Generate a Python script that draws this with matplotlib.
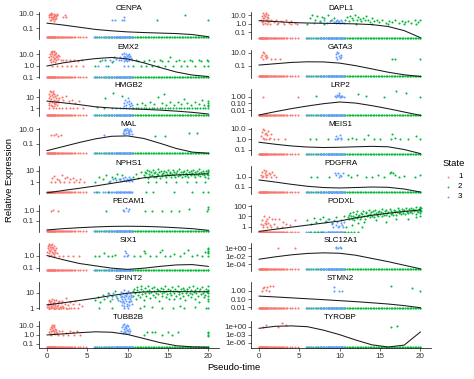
import matplotlib
matplotlib.use("Agg")
import matplotlib.pyplot as plt
from matplotlib.lines import Line2D

plt.rcParams['font.family'] = ['Liberation Sans', 'DejaVu Sans']

# ---------------- data ----------------
left_genes = ["CENPA", "EMX2", "HMGB2", "MAL", "NPHS1", "PECAM1", "SIX1", "SPINT2", "TUBB2B"]
right_genes = ["DAPL1", "GATA3", "LRP2", "MEIS1", "PDGFRA", "PODXL", "SLC12A1", "STMN2", "TYROBP"]
states = ["1", "2", "3"]
x_ticks = [0, 5, 10, 15, 20]

# pseudotime of all cells per state (used for the zero-expression strip)
cells_state1 = [0.0, 0.05, 0.1, 0.15, 0.2, 0.25, 0.3, 0.35, 0.4, 0.45, 0.5, 0.55, 0.6, 0.65, 0.7, 0.75,
                0.8, 0.85, 0.9, 0.95, 1.0, 1.1, 1.2, 1.3, 1.4, 1.5, 1.6, 1.7, 1.8, 1.9, 2.0, 2.1, 2.2,
                2.35, 2.5, 2.6, 2.75, 2.9, 3.0, 3.15, 3.3, 3.5, 3.8, 4.1, 4.4, 4.8]
cells_state3 = [5.8, 6.1, 6.5, 6.9, 7.2, 7.5, 7.7, 7.9, 8.1, 8.3, 8.5, 8.6, 8.7, 8.8, 8.9, 9.0, 9.1,
                9.2, 9.3, 9.4, 9.5, 9.6, 9.7, 9.8, 9.9, 10.0, 10.1, 10.2, 10.3, 10.4, 10.5]
cells_state2 = [5.9, 6.2, 6.4, 6.7, 7.0, 7.3, 7.5, 7.7, 7.9, 8.1, 8.3, 8.5, 8.7, 8.9, 9.1, 9.3, 9.5,
                9.7, 9.9, 10.1, 10.3, 10.5, 10.7, 10.9, 11.1, 11.3, 11.5, 11.7, 11.9, 12.1, 12.3,
                12.5, 12.7, 12.9, 13.1, 13.3, 13.5, 13.7, 13.9, 14.1, 14.3, 14.5, 14.7, 14.9, 15.1,
                15.3, 15.5, 15.7, 15.9, 16.1, 16.3, 16.5, 16.7, 16.9, 17.1, 17.3, 17.5, 17.7, 17.9,
                18.1, 18.3, 18.5, 18.7, 18.9, 19.1, 19.3, 19.5, 19.7, 19.9, 20.0]

# smooth-fit line: pseudotime knots and fitted values per gene
line_t = [0, 2, 4, 6, 8, 10, 12, 14, 16, 18, 20]
line_values = {
    "CENPA":  [0.5, 0.28, 0.14, 0.07, 0.045, 0.032, 0.026, 0.022, 0.019, 0.014, 0.007],
    "EMX2":   [0.95, 1.8, 2.9, 4.3, 5.4, 4.0, 1.8, 0.7, 0.28, 0.15, 0.11],
    "HMGB2":  [4.5, 3.2, 2.2, 1.4, 1.1, 0.95, 0.83, 0.71, 0.58, 0.45, 0.32],
    "MAL":    [0.0126, 0.045, 0.16, 0.5, 1.12, 1.26, 0.56, 0.126, 0.025, 0.0079, 0.0056],
    "NPHS1":  [0.11, 0.18, 0.28, 0.45, 0.76, 1.3, 2.4, 3.3, 4.2, 4.8, 5.4],
    "PECAM1": [0.012, 0.016, 0.02, 0.024, 0.027, 0.028, 0.027, 0.024, 0.02, 0.016, 0.011],
    "SIX1":   [1.0, 0.45, 0.22, 0.14, 0.09, 0.071, 0.089, 0.126, 0.166, 0.178, 0.126],
    "SPINT2": [1.66, 2.24, 3.16, 4.47, 6.6, 9.3, 11.2, 11.7, 11.7, 11.5, 11.5],
    "TUBB2B": [1.0, 1.32, 1.78, 2.24, 2.0, 1.12, 0.4, 0.14, 0.063, 0.047, 0.043],
    "DAPL1":  [2.24, 1.78, 1.38, 1.2, 1.12, 1.05, 0.95, 0.79, 0.48, 0.16, 0.025],
    "GATA3":  [0.126, 0.2, 0.32, 0.4, 0.38, 0.25, 0.1, 0.032, 0.01, 0.004, 0.0022],
    "LRP2":   [0.0018, 0.0056, 0.016, 0.04, 0.089, 0.16, 0.11, 0.045, 0.016, 0.005, 0.0016],
    "MEIS1":  [0.54, 0.35, 0.24, 0.19, 0.17, 0.18, 0.2, 0.22, 0.2, 0.11, 0.045],
    "PDGFRA": [0.45, 0.28, 0.166, 0.105, 0.079, 0.071, 0.079, 0.089, 0.083, 0.056, 0.028],
    "PODXL":  [0.35, 0.56, 0.89, 1.41, 2.24, 3.55, 7.1, 12.6, 20, 30, 41.7],
    "SLC12A1": [1.6e-3, 6.3e-3, 0.02, 0.045, 0.063, 0.05, 0.016, 2.5e-3, 4e-4, 5e-5, 6.3e-6],
    "STMN2":  [0.224, 0.178, 0.138, 0.107, 0.083, 0.063, 0.048, 0.035, 0.025, 0.016, 0.0089],
    "TYROBP": [0.25, 1.4, 2.0, 1.0, 0.05, 1e-3, 1e-5, 1.6e-7, 2.5e-8, 1.26e-7, 0.01],
}

# value at which zero expression is drawn
floor_values = {
    "CENPA": 0.0056, "EMX2": 0.1, "HMGB2": 0.24, "MAL": 0.0054, "NPHS1": 0.13, "PECAM1": 0.01,
    "SIX1": 0.068, "SPINT2": 0.95, "TUBB2B": 0.05, "DAPL1": 0.024, "GATA3": 0.0022,
    "LRP2": 0.0016, "MEIS1": 0.045, "PDGFRA": 0.028, "PODXL": 0.33, "SLC12A1": 5e-6,
    "STMN2": 0.0075, "TYROBP": 2.5e-8,
}
# which states have their full zero strip
baseline_states = {
    "NPHS1": [1, 3], "PODXL": [1, 3], "SPINT2": [],
}

y_limits = {
    "CENPA": (0.0032, 18.6), "EMX2": (0.085, 23.4), "HMGB2": (0.195, 56), "MAL": (0.0032, 17.4),
    "NPHS1": (0.095, 25.7), "PECAM1": (0.0071, 3.98), "SIX1": (0.054, 10.5), "SPINT2": (0.85, 49),
    "TUBB2B": (0.035, 40.7), "DAPL1": (0.0166, 24), "GATA3": (0.00138, 23.4),
    "LRP2": (0.0011, 14.8), "MEIS1": (0.033, 13.8), "PDGFRA": (0.0195, 11),
    "PODXL": (0.29, 135), "SLC12A1": (2e-6, 15.8), "STMN2": (0.0056, 11.5), "TYROBP": (1.05e-8, 209),
}
y_ticks = {
    "CENPA": [0.1, 10], "EMX2": [0.1, 1, 10], "HMGB2": [1, 10], "MAL": [0.1, 10],
    "NPHS1": [1, 10], "PECAM1": [0.1, 1], "SIX1": [0.1, 1], "SPINT2": [1, 10],
    "TUBB2B": [0.1, 1, 10], "DAPL1": [0.1, 1, 10], "GATA3": [0.1, 10], "LRP2": [0.01, 0.1, 1],
    "MEIS1": [0.1, 1, 10], "PDGFRA": [0.1, 1], "PODXL": [1, 10, 100],
    "SLC12A1": [1e-4, 1e-2, 1], "STMN2": [0.01, 0.1, 1], "TYROBP": [1e-6, 1e-3, 1],
}
y_tick_labels = {
    "CENPA": ["0.1", "10.0"], "EMX2": ["0.1", "1.0", "10.0"], "HMGB2": ["1", "10"],
    "MAL": ["0.1", "10.0"], "NPHS1": ["1", "10"], "PECAM1": ["0.1", "1.0"], "SIX1": ["0.1", "1.0"],
    "SPINT2": ["1", "10"], "TUBB2B": ["0.1", "1.0", "10.0"], "DAPL1": ["0.1", "1.0", "10.0"],
    "GATA3": ["0.1", "10.0"], "LRP2": ["0.01", "0.10", "1.00"], "MEIS1": ["0.1", "1.0", "10.0"],
    "PDGFRA": ["0.1", "1.0"], "PODXL": ["1", "10", "100"], "SLC12A1": ["1e-04", "1e-02", "1e+00"],
    "STMN2": ["0.01", "0.10", "1.00"], "TYROBP": ["1e-06", "1e-03", "1e+00"],
}

# expressed cells: (pseudotime, relative expression) per gene and state
CENPA_1 = [(0.2, 3), (0.3, 6), (0.35, 1.5), (0.4, 8), (0.45, 4), (0.5, 1.2), (0.55, 6), (0.6, 2.5),
           (0.65, 9), (0.7, 4), (0.75, 1.8), (0.8, 5), (0.85, 1.1), (0.9, 3), (0.95, 7), (1.0, 2),
           (1.05, 5), (1.1, 2.5), (1.2, 6), (1.25, 9), (0.5, 12), (0.8, 10), (2.0, 4), (2.2, 6), (2.4, 3)]
CENPA_3 = [(8.0, 1.2), (8.4, 1.2), (9.3, 1.2), (9.6, 1.2), (9.5, 4)]
CENPA_2 = [(13.6, 1.2), (17.1, 6), (19.9, 1.2)]

EMX2_1 = [(0.3, 6), (0.35, 12), (0.4, 3), (0.45, 18), (0.5, 8), (0.55, 4), (0.6, 15), (0.65, 10),
          (0.7, 2.5), (0.75, 6), (0.8, 17), (0.85, 9), (0.9, 4), (0.95, 12), (1.0, 5), (1.05, 7),
          (1.1, 3), (1.15, 14), (1.2, 6), (1.3, 9), (1.4, 4), (1.5, 7), (0.6, 20), (0.9, 20),
          (0.5, 2), (1.0, 2.2), (1.7, 3.5), (2.0, 3), (2.4, 3.2), (2.8, 3), (3.3, 3.5), (3.8, 2.8),
          (4.3, 3), (0.6, 1), (1.2, 1), (1.8, 1), (2.5, 1), (3.0, 1), (3.6, 1), (4.4, 1)]
EMX2_3 = [(6.3, 1), (6.8, 3), (7.3, 1), (7.8, 3.5), (8.2, 2.5), (8.6, 4), (8.9, 3), (9.1, 6),
          (9.2, 3), (9.3, 10), (9.4, 5), (9.5, 2.5), (9.55, 8), (9.6, 14), (9.65, 4), (9.7, 6),
          (9.75, 3), (9.8, 11), (9.85, 5), (9.9, 7), (9.95, 2.6), (10.0, 9), (10.05, 4), (10.1, 6),
          (10.15, 12), (10.2, 3.5), (10.3, 7), (10.4, 5), (10.5, 3), (9.5, 1), (10.0, 1)]
EMX2_2 = [(6.0, 1), (6.6, 2.5), (7.2, 3), (7.6, 1), (8.0, 2), (8.3, 6), (10.7, 1), (11.0, 3),
          (11.3, 2.5), (11.6, 1), (12.0, 2.8), (12.3, 1), (12.6, 3.5), (13.0, 1), (13.3, 2.5),
          (13.7, 1), (14.0, 3), (14.3, 2.5), (14.6, 1), (15.0, 2.8), (15.3, 6), (15.6, 1), (16.0, 2.5),
          (16.3, 3), (16.6, 1), (17.0, 2.5), (17.3, 1), (17.7, 3), (18.0, 2.5), (18.4, 1), (18.8, 3),
          (19.1, 2.5), (19.5, 1), (19.8, 3), (20.0, 2.5), (20.0, 1)]

HMGB2_1 = [(0.2, 3), (0.25, 8), (0.3, 20), (0.35, 5), (0.4, 12), (0.45, 2), (0.5, 30), (0.55, 7),
           (0.6, 15), (0.65, 4), (0.7, 25), (0.75, 10), (0.8, 3), (0.85, 18), (0.9, 6), (0.95, 2.5),
           (1.0, 12), (1.05, 5), (1.1, 9), (1.15, 3.5), (1.2, 15), (1.3, 6), (1.4, 4), (1.5, 8),
           (0.4, 40), (0.7, 35), (0.3, 2), (0.6, 1.6), (0.9, 1.8), (1.2, 2), (1.8, 10), (2.0, 6),
           (2.3, 12), (2.7, 5), (3.1, 6), (3.5, 3), (4.0, 5), (0.3, 1), (0.7, 1), (1.1, 1), (1.5, 1),
           (1.9, 1), (2.3, 1), (2.8, 1), (3.2, 1), (3.7, 1), (4.4, 1)]
HMGB2_3 = [(9.6, 3), (9.7, 6), (9.8, 2), (9.9, 4), (10.0, 8), (10.1, 2.5), (10.2, 5), (10.3, 1.5),
           (10.4, 3), (10.5, 2), (9.5, 1.8), (8.0, 1), (8.5, 1), (9.0, 1), (9.4, 1), (9.8, 1),
           (10.2, 1), (10.5, 1)]
HMGB2_2 = [(6.2, 1.3), (7.2, 9), (8.2, 23), (9.3, 14), (7.0, 1), (10.6, 1), (11.0, 1), (11.3, 1),
           (11.6, 1), (12.0, 1), (12.3, 1), (12.6, 1), (13.0, 1), (13.3, 1), (13.6, 1), (14.0, 1),
           (14.3, 1), (14.6, 1), (15.0, 1), (15.3, 1), (15.6, 1), (16.0, 1), (16.3, 1), (16.6, 1),
           (17.0, 1), (17.3, 1), (17.6, 1), (18.0, 1), (18.3, 1), (18.6, 1), (19.0, 1), (19.3, 1),
           (19.6, 1), (20.0, 1), (11.2, 2.5), (11.8, 3), (12.2, 2), (12.8, 4), (13.2, 2.5),
           (13.8, 10), (14.5, 20), (14.2, 3), (14.8, 2), (15.2, 3.5), (15.7, 2.2), (16.2, 4),
           (16.6, 2.5), (17.0, 7), (17.4, 3), (17.8, 2), (18.3, 3.5), (18.8, 2.5), (19.2, 6),
           (19.5, 2), (19.9, 3), (20.0, 4.5), (20.0, 2), (20.0, 1.5)]

MAL_1 = [(0.5, 1.5), (0.8, 1.5), (1.1, 2), (1.4, 1.3), (1.7, 1.6)]
MAL_3 = [(7.0, 1.5), (9.4, 3), (9.5, 8), (9.6, 5), (9.7, 12), (9.75, 3), (9.8, 7), (9.9, 15),
         (10.0, 4), (10.05, 9), (10.1, 6), (10.2, 3.5), (10.3, 10), (10.4, 5), (10.5, 2.5),
         (9.6, 2), (10.2, 2)]
MAL_2 = [(13.4, 1.2), (14.6, 1.2), (17.6, 2.8), (18.6, 2.8)]

NPHS1_1 = [(0.6, 2.5), (0.9, 3.5), (1.2, 2), (1.5, 1.5), (1.9, 4), (2.2, 2.5), (2.5, 3), (2.8, 2),
           (3.2, 2.5), (3.6, 1.5), (4.1, 2), (0.5, 1), (1.0, 1), (1.6, 1), (2.1, 1), (2.7, 1),
           (3.3, 1), (3.9, 1), (4.6, 1)]
NPHS1_3 = [(8.5, 1.5), (8.9, 2), (9.2, 1.3), (9.4, 2.5), (9.6, 1.6), (9.7, 3), (9.8, 1.2), (9.9, 2),
           (10.0, 1.5), (10.1, 2.6), (10.2, 1.3), (10.3, 2), (10.4, 1.7), (10.5, 1.2), (7.8, 1.2),
           (8.2, 2)]
NPHS1_2 = [(6.0, 1), (6.4, 3), (6.9, 2), (7.3, 4), (7.7, 1), (8.0, 3), (8.4, 2.5), (8.7, 5), (9.0, 1.8),
           (9.3, 4), (10.6, 3), (11.0, 5), (11.3, 2.5), (11.7, 7),
           (12.0, 4), (12.1, 8), (12.2, 3), (12.3, 6), (12.4, 12), (12.5, 2.5), (12.6, 5), (12.7, 9),
           (12.8, 3.5), (12.9, 7), (13.0, 4.5), (13.1, 11), (13.2, 2.8), (13.3, 6), (13.4, 8),
           (13.5, 3), (13.6, 5), (13.7, 13), (13.8, 4), (13.9, 7), (14.0, 2.5), (14.1, 9), (14.2, 5),
           (14.3, 3.5), (14.4, 6.5), (14.5, 10), (14.6, 4), (14.7, 7.5), (14.8, 2.6), (14.9, 5.5),
           (15.0, 12), (15.1, 3.8), (15.2, 6), (15.3, 8.5), (15.4, 3), (15.5, 5), (15.6, 11),
           (15.7, 4.2), (15.8, 7), (15.9, 2.8), (16.0, 6), (16.1, 9), (16.2, 3.6), (16.3, 5.5),
           (16.4, 13), (16.5, 4), (16.6, 7), (16.7, 3), (16.8, 8), (16.9, 5), (17.0, 10), (17.1, 3.5),
           (17.2, 6), (17.3, 4.5), (17.4, 12), (17.5, 3), (17.6, 7), (17.7, 5), (17.8, 9), (17.9, 3.8),
           (18.0, 6), (18.1, 11), (18.2, 4), (18.3, 7.5), (18.4, 2.8), (18.5, 5.5), (18.6, 9), (18.7, 4),
           (18.8, 13), (18.9, 6), (19.0, 3.2), (19.1, 8), (19.2, 5), (19.3, 10), (19.4, 4), (19.5, 6.5),
           (19.6, 3), (19.7, 9), (19.8, 5), (19.9, 12), (20.0, 4), (20.0, 7), (20.0, 2.5), (20.0, 10),
           (12.5, 1), (13.5, 1), (14.8, 1), (16.0, 1), (17.3, 1), (18.5, 1), (19.6, 1),
           (6.2, 0.13), (7.5, 0.13), (12.3, 0.13), (13.1, 0.13), (15.8, 0.13), (18.0, 0.13),
           (19.3, 0.13), (20.0, 0.13)]

PECAM1_1 = [(0.5, 1), (1.3, 1), (0.7, 1.3)]
PECAM1_3 = [(9.4, 1.3), (9.6, 1), (9.8, 2), (10.0, 1), (10.1, 1.5)]
PECAM1_2 = [(7.3, 1), (12.2, 1), (13.0, 1), (14.2, 1), (15.4, 1), (16.3, 1), (17.6, 1.5), (19.8, 1),
            (20.0, 2.5), (20.0, 1.5)]

SIX1_1 = [(0.0, 2), (0.1, 4), (0.15, 6), (0.2, 1.5), (0.25, 3), (0.3, 8), (0.35, 2.5), (0.4, 5),
          (0.45, 1.2), (0.5, 7), (0.55, 3.5), (0.6, 2), (0.65, 5.5), (0.7, 1.6), (0.75, 4), (0.8, 2.8),
          (0.85, 6), (0.9, 1.3), (0.95, 3), (1.0, 2), (1.1, 4.5), (1.2, 1.8), (0.2, 9), (0.6, 8.5),
          (0.3, 1), (0.9, 1), (1.5, 1), (2.0, 1), (2.6, 1), (3.2, 1), (3.9, 1)]
SIX1_3 = [(9.6, 1), (9.8, 1.5), (9.9, 1), (9.7, 2.5), (10.0, 1.2)]
SIX1_2 = [(6.0, 1), (6.5, 1), (7.0, 1.5), (7.5, 1), (8.0, 1), (8.4, 1.2), (10.8, 1), (11.5, 1),
          (12.2, 1.5), (12.8, 1), (13.5, 1), (14.0, 2), (14.6, 1), (15.2, 1), (15.8, 1.3), (16.5, 1),
          (17.0, 1.5), (17.5, 3), (18.0, 1), (18.6, 1.2), (19.2, 1), (19.6, 2), (20.0, 1), (20.0, 1.5),
          (20.0, 2.5), (20.0, 3.5), (20.0, 4.5), (19.9, 2), (14.3, 3), (12.0, 2.5)]

SPINT2_1 = [(0.0, 1.3), (0.1, 2), (0.15, 1.6), (0.2, 2.8), (0.25, 1.2), (0.3, 3.5), (0.35, 1.8),
            (0.4, 2.4), (0.45, 1.4), (0.5, 3), (0.55, 1.9), (0.6, 4), (0.65, 1.3), (0.7, 2.2),
            (0.75, 1.6), (0.8, 3.2), (0.85, 1.1), (0.9, 2.6), (0.95, 1.5), (1.0, 2), (1.1, 3.6),
            (1.2, 1.4), (1.3, 2.4), (1.4, 1.7), (1.5, 3), (1.6, 1.2), (1.7, 2.2), (1.8, 1.5), (1.9, 2.8),
            (2.0, 1.3), (2.2, 2), (2.4, 4.5), (2.6, 1.6), (2.9, 2.5), (3.2, 1.8), (3.5, 3), (3.9, 2),
            (4.3, 1.5), (0.2, 1), (0.5, 1), (0.8, 1), (1.1, 1), (1.4, 1), (1.7, 1), (2.0, 1), (2.3, 1),
            (2.7, 1), (3.0, 1), (3.4, 1), (3.8, 1), (0.3, 0.95), (0.9, 0.95), (1.5, 0.95), (2.5, 0.95)]
SPINT2_3 = [(7.4, 5), (7.7, 8), (8.0, 4), (8.2, 9), (8.5, 6), (8.8, 3.5), (9.0, 7), (9.1, 3), (9.15, 5),
            (9.2, 11), (9.25, 2.5), (9.3, 6), (9.35, 4), (9.4, 9), (9.45, 3), (9.5, 14), (9.55, 5),
            (9.6, 2.2), (9.65, 7), (9.7, 4), (9.75, 10), (9.8, 3), (9.85, 6), (9.9, 2), (9.95, 8),
            (10.0, 4.5), (10.05, 12), (10.1, 3), (10.15, 6), (10.2, 2.5), (10.25, 9), (10.3, 4),
            (10.35, 7), (10.4, 3), (10.45, 5), (10.5, 2), (9.3, 1.6), (9.6, 1.4), (9.9, 1.5),
            (10.2, 1.6), (9.5, 1), (10.0, 1)]
SPINT2_2 = [(6.0, 3.5), (6.3, 5), (6.6, 2.5), (6.9, 7), (7.1, 4), (7.5, 10), (7.8, 3), (8.1, 6),
            (8.4, 12), (8.7, 4.5), (6.5, 1), (8.0, 1),
            (10.6, 12), (10.7, 6), (10.8, 18), (10.9, 9), (11.0, 4), (11.1, 14), (11.2, 22), (11.3, 7),
            (11.4, 11), (11.5, 5), (11.6, 16), (11.7, 25), (11.8, 8), (11.9, 13), (12.0, 3.5),
            (12.1, 10), (12.2, 19), (12.3, 6), (12.4, 12), (12.5, 28), (12.6, 9), (12.7, 15),
            (12.8, 4.5), (12.9, 11), (13.0, 20), (13.1, 7), (13.2, 13), (13.3, 24), (13.4, 5.5),
            (13.5, 10), (13.6, 17), (13.7, 8), (13.8, 14), (13.9, 3), (14.0, 12), (14.1, 21),
            (14.2, 6.5), (14.3, 9), (14.4, 16), (14.5, 11), (14.6, 26), (14.7, 5), (14.8, 13),
            (14.9, 8), (15.0, 18), (15.1, 4), (15.2, 10), (15.3, 15), (15.4, 7), (15.5, 22),
            (15.6, 12), (15.7, 3.8), (15.8, 9), (15.9, 17), (16.0, 6), (16.1, 13), (16.2, 25),
            (16.3, 8.5), (16.4, 11), (16.5, 4.5), (16.6, 16), (16.7, 10), (16.8, 20), (16.9, 6),
            (17.0, 14), (17.1, 3.2), (17.2, 9), (17.3, 18), (17.4, 12), (17.5, 7), (17.6, 23),
            (17.7, 10), (17.8, 5), (17.9, 15), (18.0, 8), (18.1, 28), (18.2, 11), (18.3, 4),
            (18.4, 14), (18.5, 9), (18.6, 19), (18.7, 6), (18.8, 12), (18.9, 2.6), (19.0, 16),
            (19.1, 8), (19.2, 22), (19.3, 10), (19.4, 5.5), (19.5, 13), (19.6, 7), (19.7, 18),
            (19.8, 11), (19.9, 4), (20.0, 15), (20.0, 9), (20.0, 25), (20.0, 6), (20.0, 12), (20.0, 3),
            (11.5, 1), (13.0, 1.2), (14.2, 1), (15.6, 1.1), (17.0, 1), (18.3, 1.2), (19.7, 1),
            (20.0, 1), (12.0, 1.5), (16.5, 1.4)]

TUBB2B_1 = [(0.3, 2), (0.35, 5), (0.4, 1.4), (0.45, 8), (0.5, 3), (0.55, 1.2), (0.6, 6), (0.65, 2.5),
            (0.7, 10), (0.75, 4), (0.8, 1.6), (0.85, 7), (0.9, 3), (0.95, 1.3), (1.0, 5), (1.05, 2),
            (1.1, 3.5), (1.2, 1.5), (0.6, 13), (0.9, 12), (1.5, 3), (1.9, 2.5), (2.3, 1.5), (2.8, 3),
            (3.2, 2), (3.7, 2.5), (0.5, 1), (1.3, 1), (2.0, 1), (2.6, 1), (3.4, 1), (4.1, 1)]
TUBB2B_3 = [(9.2, 3), (9.3, 8), (9.4, 1.6), (9.45, 12), (9.5, 5), (9.55, 2.2), (9.6, 18), (9.65, 7),
            (9.7, 3), (9.75, 10), (9.8, 1.8), (9.85, 6), (9.9, 14), (9.95, 4), (10.0, 2.5),
            (10.05, 9), (10.1, 5), (10.2, 1.5), (10.3, 3)]
TUBB2B_2 = [(12.4, 2), (13.0, 2), (13.4, 2), (14.3, 1), (15.0, 2), (15.5, 1), (16.2, 2), (12.0, 1),
            (20.0, 1), (20.0, 1.5), (20.0, 2), (20.0, 0.8)]

DAPL1_1 = [(0.3, 3), (0.35, 8), (0.4, 1.5), (0.45, 15), (0.5, 5), (0.55, 2), (0.6, 10), (0.65, 4),
           (0.7, 1.2), (0.75, 7), (0.8, 18), (0.85, 3), (0.9, 12), (0.95, 2.5), (1.0, 6), (1.05, 1.6),
           (1.1, 9), (1.15, 4), (1.2, 2), (0.5, 1), (1.0, 1), (1.5, 2.5), (1.8, 1.5), (2.1, 3),
           (2.4, 1.2), (2.7, 2), (3.0, 1.5), (3.3, 2.5), (3.7, 1.3), (4.0, 2), (4.5, 1.2), (1.3, 1),
           (2.2, 1), (3.1, 1), (3.9, 1), (4.7, 1)]
DAPL1_3 = [(7.6, 1.5), (8.0, 2.5), (8.4, 1.2), (8.8, 2), (9.1, 3), (9.3, 1.4), (9.5, 2.2), (9.6, 1.1),
           (9.7, 2.8), (9.8, 1.6), (9.9, 2), (10.0, 1.3), (10.1, 2.5), (10.3, 1.5), (10.5, 1.2),
           (6.8, 1.2)]
DAPL1_2 = [(6.3, 5), (6.6, 10), (6.9, 3), (7.2, 7), (7.5, 2), (7.8, 6), (8.1, 4), (8.5, 9), (8.9, 2.5),
           (9.3, 5), (10.6, 3), (10.9, 6), (11.1, 2), (11.3, 8), (11.5, 4), (11.7, 3), (11.9, 10),
           (12.1, 2.5), (12.3, 6), (12.5, 3.5), (12.7, 1.8), (12.9, 5), (13.1, 2.5), (13.3, 7),
           (13.5, 3), (13.7, 1.6), (14.0, 4), (14.3, 2), (14.6, 3), (14.9, 1.5), (15.3, 2.5),
           (15.7, 1.3), (16.1, 2), (16.5, 1.5), (16.9, 2.5), (17.3, 1.2), (17.7, 1.8), (18.1, 1.5),
           (18.5, 2), (18.9, 1.2), (19.3, 2.5), (19.7, 1.5), (19.9, 3), (6.0, 1), (8.0, 1), (12.0, 1),
           (14.0, 1), (16.0, 1), (18.0, 1), (19.5, 1)]

GATA3_1 = [(0.3, 2), (0.4, 5), (0.5, 1.2), (0.6, 8), (0.7, 3), (0.8, 1.5), (0.9, 4), (1.0, 2),
           (0.5, 12), (1.5, 1.2), (2.0, 1.2), (2.6, 1.2)]
GATA3_3 = [(9.5, 2), (9.6, 6), (9.7, 1.2), (9.8, 10), (9.9, 3), (10.0, 1.5), (10.1, 5), (10.2, 2),
           (9.7, 15)]
GATA3_2 = [(16.5, 1.2), (16.8, 1.2), (20.0, 1.2)]

LRP2_1 = [(0.5, 1), (4.8, 1)]
LRP2_3 = [(9.4, 1.3), (9.6, 1), (9.7, 2), (9.8, 1.1), (9.9, 1.6), (10.0, 1), (10.1, 1.4), (10.2, 1),
          (10.3, 1.2), (10.5, 1), (9.9, 4)]
LRP2_2 = [(7.0, 1.5), (12.3, 3), (13.2, 1.2), (15.5, 1), (17.0, 8), (18.2, 4), (20.0, 1)]

MEIS1_1 = [(0.3, 2), (0.4, 5), (0.5, 1.5), (0.6, 8), (0.7, 3), (0.8, 1.2), (0.9, 4), (1.0, 2.5),
           (1.1, 6), (1.3, 1.5), (1.5, 3), (0.6, 1), (1.2, 1), (1.8, 1), (2.4, 1), (3.2, 1), (0.5, 10)]
MEIS1_3 = [(9.4, 1.2), (9.6, 2), (9.8, 1.5), (10.0, 2.5), (10.2, 1.3), (9.7, 1), (10.1, 1)]
MEIS1_2 = [(6.3, 1), (7.0, 1), (8.5, 1), (11.0, 1), (11.5, 1.3), (12.0, 1), (13.0, 1), (13.5, 2.5),
           (14.2, 1), (15.0, 1), (16.3, 1), (16.5, 3), (16.8, 1.5), (17.5, 1), (18.5, 1), (19.5, 2),
           (19.9, 1)]

PDGFRA_1 = [(0.3, 1.5), (0.4, 3), (0.5, 1.2), (0.6, 4), (0.7, 2), (0.8, 1.5), (0.9, 3.5), (1.0, 1.3),
            (1.2, 2.5), (1.4, 1.6), (1.6, 3), (1.9, 1.5), (0.4, 1), (0.9, 1), (1.5, 1), (2.1, 1)]
PDGFRA_3 = [(9.4, 2), (9.6, 1.3), (9.8, 2.5), (10.0, 1.5), (10.2, 1.2), (10.4, 2), (9.9, 1)]
PDGFRA_2 = [(6.5, 1), (7.2, 1), (8.7, 1), (11.0, 1.5), (11.4, 1), (12.2, 1.4), (13.2, 1), (14.0, 1),
            (14.8, 1.3), (15.5, 1), (16.2, 2), (16.4, 3), (16.6, 2.5), (16.8, 1.5), (17.4, 1),
            (18.0, 1.2), (19.3, 1), (20.0, 1.3)]

PODXL_1 = [(0.3, 2), (0.4, 4), (0.5, 1.5), (0.6, 10), (0.7, 2.5), (0.8, 3.5), (0.9, 1.8), (1.0, 5),
           (1.1, 2.2), (1.2, 8), (1.4, 1.6), (1.6, 6), (1.8, 2), (2.0, 5), (2.5, 6), (3.0, 3),
           (3.3, 2), (3.8, 1.5), (4.5, 4), (0.5, 1), (1.0, 1), (1.5, 1), (2.2, 1), (2.8, 1)]
PODXL_3 = [(8.2, 3), (8.6, 5), (9.0, 2), (9.3, 4), (9.5, 1.5), (9.7, 3), (9.9, 1.2), (10.1, 2.5),
           (10.3, 1.6), (10.5, 3), (9.2, 1), (9.8, 1), (10.4, 1)]
PODXL_2 = [(6.0, 4), (6.4, 2), (6.8, 7), (7.1, 3), (7.5, 5), (7.9, 9), (8.3, 3.5), (8.7, 6), (9.1, 2.5),
           (9.5, 8), (10.1, 4), (10.5, 10),
           (11.0, 8), (11.1, 15), (11.2, 5), (11.3, 20), (11.4, 10), (11.5, 6), (11.6, 25), (11.7, 12),
           (11.8, 4), (11.9, 9), (12.0, 18), (12.1, 7), (12.2, 30), (12.3, 11), (12.4, 14), (12.5, 5),
           (12.6, 22), (12.7, 9), (12.8, 16), (12.9, 35), (13.0, 12), (13.1, 6), (13.2, 20), (13.3, 28),
           (13.4, 10), (13.5, 15), (13.6, 40), (13.7, 8), (13.8, 18), (13.9, 25), (14.0, 12), (14.1, 30),
           (14.2, 16), (14.3, 9), (14.4, 45), (14.5, 20), (14.6, 14), (14.7, 28), (14.8, 11), (14.9, 35),
           (15.0, 18), (15.1, 24), (15.2, 10), (15.3, 50), (15.4, 22), (15.5, 15), (15.6, 30),
           (15.7, 13), (15.8, 40), (15.9, 20), (16.0, 26), (16.1, 12), (16.2, 55), (16.3, 18),
           (16.4, 32), (16.5, 22), (16.6, 15), (16.7, 45), (16.8, 25), (16.9, 35), (17.0, 14),
           (17.1, 28), (17.2, 60), (17.3, 20), (17.4, 38), (17.5, 24), (17.6, 16), (17.7, 50),
           (17.8, 30), (17.9, 22), (18.0, 42), (18.1, 18), (18.2, 65), (18.3, 28), (18.4, 35),
           (18.5, 20), (18.6, 48), (18.7, 25), (18.8, 70), (18.9, 32), (19.0, 22), (19.1, 55),
           (19.2, 30), (19.3, 40), (19.4, 18), (19.5, 75), (19.6, 35), (19.7, 26), (19.8, 50),
           (19.9, 38), (20.0, 30), (20.0, 60), (20.0, 20), (20.0, 90), (20.0, 45), (20.0, 12),
           (20.1, 35), (20.1, 70),
           (11.5, 1.5), (12.3, 2.5), (13.0, 3), (14.5, 4), (15.7, 3), (17.0, 5), (18.5, 6), (19.5, 8),
           (12.8, 1), (10.8, 1),
           (6.3, 0.33), (6.8, 0.33), (7.3, 0.33), (7.8, 0.33), (10.6, 0.33), (11.0, 0.33),
           (11.4, 0.33), (11.8, 0.33), (12.3, 0.33)]

SLC12A1_1 = [(2.3, 1), (4.5, 1)]
SLC12A1_3 = [(9.5, 1), (9.6, 1.5), (9.8, 1), (10.0, 2), (10.1, 1)]
SLC12A1_2 = []

STMN2_1 = [(0.4, 1), (0.6, 3), (0.8, 1.2), (1.0, 2.5), (1.2, 1), (1.4, 3.5), (0.5, 2), (1.7, 4)]
STMN2_3 = [(9.3, 1), (9.35, 2.5), (9.9, 1), (10.3, 1)]
STMN2_2 = [(16.3, 4), (19.0, 2), (20.0, 1)]

TYROBP_1 = [(0.5, 1), (0.9, 4), (2.3, 1), (2.8, 30), (3.3, 3)]
TYROBP_3 = []
TYROBP_2 = [(16.3, 0.5), (17.1, 1.2)]

expressed = {
    "CENPA": (CENPA_1, CENPA_2, CENPA_3), "EMX2": (EMX2_1, EMX2_2, EMX2_3),
    "HMGB2": (HMGB2_1, HMGB2_2, HMGB2_3), "MAL": (MAL_1, MAL_2, MAL_3),
    "NPHS1": (NPHS1_1, NPHS1_2, NPHS1_3), "PECAM1": (PECAM1_1, PECAM1_2, PECAM1_3),
    "SIX1": (SIX1_1, SIX1_2, SIX1_3), "SPINT2": (SPINT2_1, SPINT2_2, SPINT2_3),
    "TUBB2B": (TUBB2B_1, TUBB2B_2, TUBB2B_3), "DAPL1": (DAPL1_1, DAPL1_2, DAPL1_3),
    "GATA3": (GATA3_1, GATA3_2, GATA3_3), "LRP2": (LRP2_1, LRP2_2, LRP2_3),
    "MEIS1": (MEIS1_1, MEIS1_2, MEIS1_3), "PDGFRA": (PDGFRA_1, PDGFRA_2, PDGFRA_3),
    "PODXL": (PODXL_1, PODXL_2, PODXL_3), "SLC12A1": (SLC12A1_1, SLC12A1_2, SLC12A1_3),
    "STMN2": (STMN2_1, STMN2_2, STMN2_3), "TYROBP": (TYROBP_1, TYROBP_2, TYROBP_3),
}

# ---------------- drawing ----------------
W, H = 474, 379
fig = plt.figure(figsize=(W / 100, H / 100), dpi=100)

state_colors = {1: "#F8766D", 2: "#00BA38", 3: "#619CFF"}
cells = {1: cells_state1, 2: cells_state2, 3: cells_state3}
col_left_px = [38.5, 250.5]
panel_w = 180.0
panel_h = 27.5
row0_bottom = 39.2
row_step = 38.6
pt_size = 2.2
tick_fs = 5.8
strip_fs = 5.8

for ci, genes in enumerate([left_genes, right_genes]):
    for ri, g in enumerate(genes):
        B = row0_bottom + row_step * ri
        ax = fig.add_axes([col_left_px[ci] / W, 1 - B / H, panel_w / W, panel_h / H])
        ax.set_yscale("log")
        ax.set_xlim(-1.06, 21.26)
        ax.set_ylim(*y_limits[g])
        fl = floor_values[g]
        bstates = baseline_states.get(g, [1, 2, 3])
        # zero strip (green, blue, red order)
        for s in (2, 3, 1):
            if s in bstates:
                ax.scatter(cells[s], [fl] * len(cells[s]), s=pt_size, color=state_colors[s],
                           linewidths=0, zorder=2)
        pts1, pts2, pts3 = expressed[g]
        for s, pts in ((2, pts2), (3, pts3), (1, pts1)):
            if pts:
                ax.scatter([p[0] for p in pts], [p[1] for p in pts], s=pt_size,
                           color=state_colors[s], linewidths=0, zorder=3)
        ax.plot(line_t, line_values[g], color="#1a1a1a", lw=0.75, zorder=4)

        ax.set_yticks(y_ticks[g])
        ax.set_yticklabels(y_tick_labels[g])
        ax.yaxis.set_minor_locator(matplotlib.ticker.NullLocator())
        ax.tick_params(axis="y", labelsize=tick_fs, length=2, width=0.5, pad=1,
                       colors="#333333")
        for sp in ("top", "right"):
            ax.spines[sp].set_visible(False)
        ax.spines["left"].set_linewidth(0.5)
        if ri == len(genes) - 1:
            ax.set_xticks(x_ticks)
            ax.set_xticklabels([str(v) for v in x_ticks])
            ax.tick_params(axis="x", labelsize=tick_fs, length=2, width=0.5, pad=1.5,
                           colors="#333333")
            ax.spines["bottom"].set_linewidth(0.5)
        else:
            ax.set_xticks([])
            ax.spines["bottom"].set_visible(False)
        ax.patch.set_alpha(0)
        ax.text(0.5, 1 + 3.0 / panel_h, g, transform=ax.transAxes, ha="center", va="center",
                fontsize=strip_fs, color="black")

fig.text(10 / W, 1 - 180 / H, "Relative Expression", rotation=90, ha="center", va="center",
         fontsize=6.8)
fig.text(234 / W, 1 - 368 / H, "Pseudo-time", ha="center", va="center", fontsize=6.8)

# legend
fig.text(443 / W, 1 - 164 / H, "State", ha="left", va="center", fontsize=6.8)
for i, s in enumerate(states):
    y = 1 - (177 + 10 * i) / H
    fig.add_artist(Line2D([448 / W], [y], transform=fig.transFigure, marker="o", ms=1.3,
                          mew=0, color=state_colors[i + 1], linestyle=""))
    fig.text(458 / W, y, s, ha="left", va="center", fontsize=5.8)

fig.savefig("out.png", dpi=100)
